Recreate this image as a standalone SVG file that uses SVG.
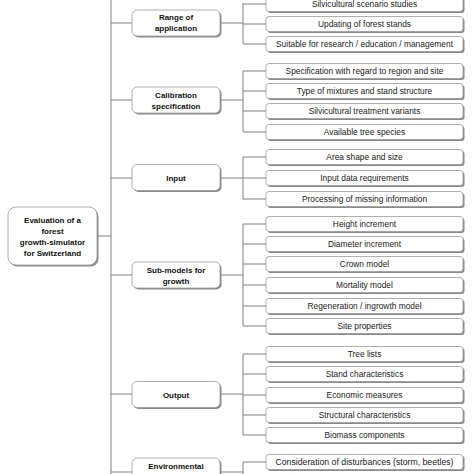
<svg xmlns="http://www.w3.org/2000/svg" width="474" height="474" viewBox="0 0 474 474">
<style>
.ln{stroke:#808080;stroke-width:1;fill:none}
.sh{fill:#8a8a8a}
.bx{fill:#fff;stroke:#9a9a9a;stroke-width:0.8}
.t{font-family:"Liberation Sans",Arial,sans-serif;font-size:8.4px;fill:#222;text-anchor:middle}
.b{font-family:"Liberation Sans",Arial,sans-serif;font-size:8px;font-weight:bold;fill:#111;text-anchor:middle}
</style>
<rect width="474" height="474" fill="#fff"/>
<g id="connectors" class="ln">
<path d="M97 236H111M111 0V474"/>
<path d="M111 23H132M220 23H243M243 3V44M243 4H266M243 24H266M243 44H266"/>
<path d="M111 100H132M220 100H243M243 71V132M243 71H266M243 91H266M243 111H266M243 132H266"/>
<path d="M111 178H132M220 178H243M243 157V199M243 157H266M243 178H266M243 199H266"/>
<path d="M111 275H132M220 275H243M243 224V326M243 224H266M243 244H266M243 264H266M243 285H266M243 306H266M243 326H266"/>
<path d="M111 394H132M220 394H243M243 354V435M243 354H266M243 374H266M243 395H266M243 415H266M243 435H266"/>
<path d="M111 472H132M220 472H243M243 462V474M243 462H266"/>
</g>
<g id="root">
<rect class="sh" x="9.5" y="208.5" width="89" height="58" rx="8"/>
<rect class="bx" x="8" y="207" width="89" height="58" rx="8"/>
<text class="b" x="52.5" y="223">Evaluation of a</text>
<text class="b" x="52.5" y="234">forest</text>
<text class="b" x="52.5" y="245">growth-simulator</text>
<text class="b" x="52.5" y="256">for Switzerland</text>
</g>
<g id="mid-range">
<rect class="sh" x="133.5" y="11.5" width="88" height="26" rx="5"/>
<rect class="bx" x="132" y="10" width="88" height="26" rx="5"/>
<text class="b" x="176" y="20">Range of</text>
<text class="b" x="176" y="31">application</text>
</g>
<g id="mid-calibration">
<rect class="sh" x="133.5" y="88.5" width="88" height="26" rx="5"/>
<rect class="bx" x="132" y="87" width="88" height="26" rx="5"/>
<text class="b" x="176" y="97.5">Calibration</text>
<text class="b" x="176" y="108.5">specification</text>
</g>
<g id="mid-input">
<rect class="sh" x="133.5" y="166" width="88" height="26" rx="5"/>
<rect class="bx" x="132" y="164.5" width="88" height="26" rx="5"/>
<text class="b" x="176" y="180.5">Input</text>
</g>
<g id="mid-submodels">
<rect class="sh" x="133.5" y="263.5" width="88" height="26" rx="5"/>
<rect class="bx" x="132" y="262" width="88" height="26" rx="5"/>
<text class="b" x="176" y="272.5">Sub-models for</text>
<text class="b" x="176" y="283.5">growth</text>
</g>
<g id="mid-output">
<rect class="sh" x="133.5" y="383" width="88" height="26" rx="5"/>
<rect class="bx" x="132" y="381.5" width="88" height="26" rx="5"/>
<text class="b" x="176" y="397.5">Output</text>
</g>
<g id="mid-environmental">
<rect class="sh" x="133.5" y="459.5" width="88" height="26" rx="5"/>
<rect class="bx" x="132" y="458" width="88" height="26" rx="5"/>
<text class="b" x="176" y="468.5">Environmental</text>
</g>
<g id="leaves">
<g id="leaf-1"><rect class="sh" x="267.5" y="-2" width="197" height="15" rx="3"/><rect class="bx" x="266" y="-3.5" width="197" height="15" rx="3"/><text class="t" x="364.5" y="7">Silvicultural scenario studies</text></g>
<g id="leaf-2"><rect class="sh" x="267.5" y="18" width="197" height="15" rx="3"/><rect class="bx" x="266" y="16.5" width="197" height="15" rx="3"/><text class="t" x="364.5" y="27">Updating of forest stands</text></g>
<g id="leaf-3"><rect class="sh" x="267.5" y="38" width="197" height="15" rx="3"/><rect class="bx" x="266" y="36.5" width="197" height="15" rx="3"/><text class="t" x="364.5" y="47" textLength="177" lengthAdjust="spacingAndGlyphs">Suitable for research / education / management</text></g>
<g id="leaf-4"><rect class="sh" x="267.5" y="65" width="197" height="15" rx="3"/><rect class="bx" x="266" y="63.5" width="197" height="15" rx="3"/><text class="t" x="364.5" y="74">Specification with regard to region and site</text></g>
<g id="leaf-5"><rect class="sh" x="267.5" y="85" width="197" height="15" rx="3"/><rect class="bx" x="266" y="83.5" width="197" height="15" rx="3"/><text class="t" x="364.5" y="94">Type of mixtures and stand structure</text></g>
<g id="leaf-6"><rect class="sh" x="267.5" y="105" width="197" height="15" rx="3"/><rect class="bx" x="266" y="103.5" width="197" height="15" rx="3"/><text class="t" x="364.5" y="114">Silvicultural treatment variants</text></g>
<g id="leaf-7"><rect class="sh" x="267.5" y="126" width="197" height="15" rx="3"/><rect class="bx" x="266" y="124.5" width="197" height="15" rx="3"/><text class="t" x="364.5" y="135">Available tree species</text></g>
<g id="leaf-8"><rect class="sh" x="267.5" y="151" width="197" height="15" rx="3"/><rect class="bx" x="266" y="149.5" width="197" height="15" rx="3"/><text class="t" x="364.5" y="160">Area shape and size</text></g>
<g id="leaf-9"><rect class="sh" x="267.5" y="172" width="197" height="15" rx="3"/><rect class="bx" x="266" y="170.5" width="197" height="15" rx="3"/><text class="t" x="364.5" y="181">Input data requirements</text></g>
<g id="leaf-10"><rect class="sh" x="267.5" y="193" width="197" height="15" rx="3"/><rect class="bx" x="266" y="191.5" width="197" height="15" rx="3"/><text class="t" x="364.5" y="202">Processing of missing information</text></g>
<g id="leaf-11"><rect class="sh" x="267.5" y="218" width="197" height="15" rx="3"/><rect class="bx" x="266" y="216.5" width="197" height="15" rx="3"/><text class="t" x="364.5" y="227">Height increment</text></g>
<g id="leaf-12"><rect class="sh" x="267.5" y="238" width="197" height="15" rx="3"/><rect class="bx" x="266" y="236.5" width="197" height="15" rx="3"/><text class="t" x="364.5" y="247">Diameter increment</text></g>
<g id="leaf-13"><rect class="sh" x="267.5" y="258" width="197" height="15" rx="3"/><rect class="bx" x="266" y="256.5" width="197" height="15" rx="3"/><text class="t" x="364.5" y="267">Crown model</text></g>
<g id="leaf-14"><rect class="sh" x="267.5" y="279" width="197" height="15" rx="3"/><rect class="bx" x="266" y="277.5" width="197" height="15" rx="3"/><text class="t" x="364.5" y="288">Mortality model</text></g>
<g id="leaf-15"><rect class="sh" x="267.5" y="300" width="197" height="15" rx="3"/><rect class="bx" x="266" y="298.5" width="197" height="15" rx="3"/><text class="t" x="364.5" y="309">Regeneration / ingrowth model</text></g>
<g id="leaf-16"><rect class="sh" x="267.5" y="320" width="197" height="15" rx="3"/><rect class="bx" x="266" y="318.5" width="197" height="15" rx="3"/><text class="t" x="364.5" y="329">Site properties</text></g>
<g id="leaf-17"><rect class="sh" x="267.5" y="348" width="197" height="15" rx="3"/><rect class="bx" x="266" y="346.5" width="197" height="15" rx="3"/><text class="t" x="364.5" y="357">Tree lists</text></g>
<g id="leaf-18"><rect class="sh" x="267.5" y="368" width="197" height="15" rx="3"/><rect class="bx" x="266" y="366.5" width="197" height="15" rx="3"/><text class="t" x="364.5" y="377">Stand characteristics</text></g>
<g id="leaf-19"><rect class="sh" x="267.5" y="389" width="197" height="15" rx="3"/><rect class="bx" x="266" y="387.5" width="197" height="15" rx="3"/><text class="t" x="364.5" y="398">Economic measures</text></g>
<g id="leaf-20"><rect class="sh" x="267.5" y="409" width="197" height="15" rx="3"/><rect class="bx" x="266" y="407.5" width="197" height="15" rx="3"/><text class="t" x="364.5" y="418">Structural characteristics</text></g>
<g id="leaf-21"><rect class="sh" x="267.5" y="429" width="197" height="15" rx="3"/><rect class="bx" x="266" y="427.5" width="197" height="15" rx="3"/><text class="t" x="364.5" y="438">Biomass components</text></g>
<g id="leaf-22"><rect class="sh" x="267.5" y="456" width="197" height="15" rx="3"/><rect class="bx" x="266" y="454.5" width="197" height="15" rx="3"/><text class="t" x="364.5" y="465" textLength="178" lengthAdjust="spacingAndGlyphs">Consideration of disturbances (storm, beetles)</text></g>
</g>
</svg>
